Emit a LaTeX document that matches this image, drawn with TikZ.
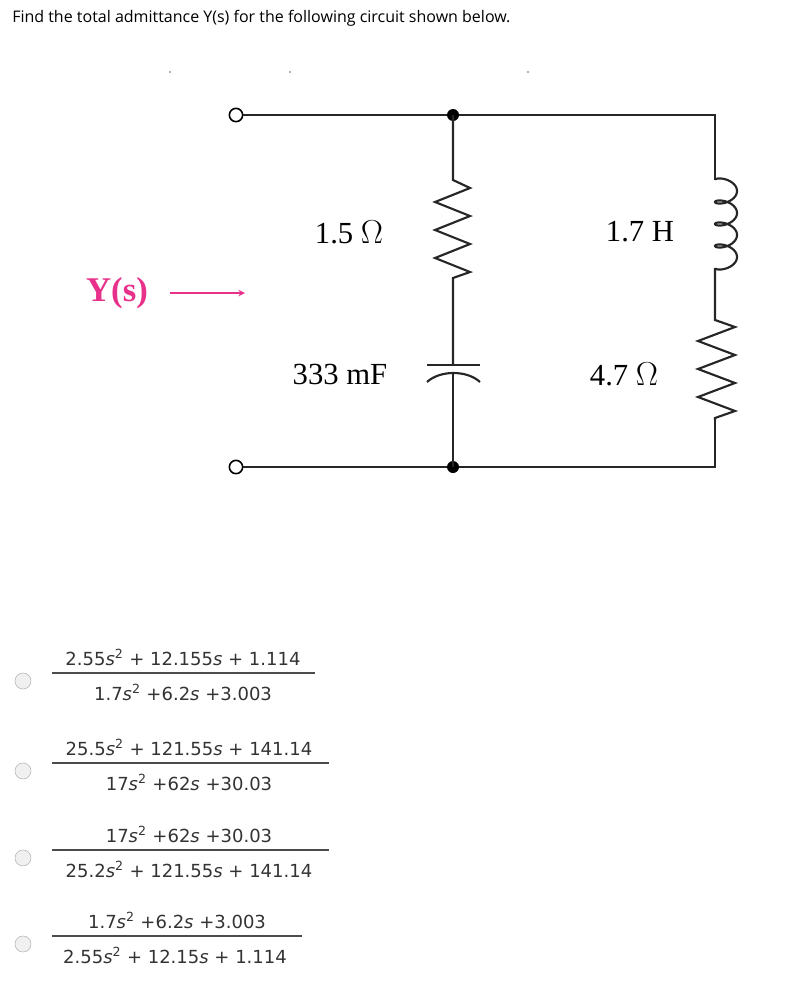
\documentclass[tikz,border=0pt]{standalone}
\usepackage{fontspec}
\setmainfont{Liberation Serif}
\newfontfamily\titlefont{Open Sans}
\newfontfamily\ansf{DejaVu Sans}
\definecolor{ypink}{HTML}{E8318A}
\newcommand{\vs}{\textit{s}}
\begin{document}
\begin{tikzpicture}[x=0.75pt,y=-0.75pt,
  wire/.style={line width=1.6pt,black!85},
  lbl/.style={font=\fontsize{23}{26}\selectfont,inner sep=0pt},
  radio/.style={circle,draw=black!30,fill=black!6,minimum size=12pt,inner sep=0pt},
  ans/.style={font=\ansf\fontsize{13.5}{16}\selectfont,inner sep=0pt,text=black!80},
  bar/.style={line width=0.8pt,black!70}]
\useasboundingbox (0,0) rectangle (790,992);
\node[anchor=west,inner sep=0pt,font=\titlefont\fontsize{12}{14}\selectfont] (title) at (12,18) {Find the total admittance Y(s) for the following circuit shown below.};
\foreach \x in {170,290,528} \fill[black!40] (\x,72) circle (0.8pt);
% terminals
\node[circle,draw,line width=1.2pt,minimum size=10pt,inner sep=0pt] (t1) at (236,115) {};
\node[circle,draw,line width=1.2pt,minimum size=10pt,inner sep=0pt] (t2) at (236,467) {};
\coordinate (n1) at (453,115); \coordinate (n2) at (453,467);
\coordinate (c1) at (715,115); \coordinate (c2) at (715,467);
\draw[wire] (t1) -- (n1) -- (c1) -- (715,180);
\draw[wire] (t2) -- (n2) -- (c2) -- (715,420);
\fill (n1) circle (4.5pt); \fill (n2) circle (4.5pt);
% middle branch
\draw[wire] (n1) -- (453,180) -- (470,188) -- (435,202) -- (470,216) -- (435,230) -- (470,244) -- (435,258) -- (470,272) -- (453,278) -- (453,365);
\draw[wire] (427,365) -- (480,365);
\draw[wire] (427,382) .. controls (440,370) and (467,370) .. (480,382);
\draw[wire] (453,373) -- (n2);
% right branch: inductor
\draw[wire,domain=0:4*360,samples=200,smooth,variable=\t]
  plot ({715+11*(1-cos(\t))}, {180+(22/360)*\t-6*sin(\t)});
\draw[wire] (715,268) -- (715,320) -- (735,327) -- (698,341) -- (735,355) -- (698,369) -- (735,383) -- (698,397) -- (735,411) -- (715,418) -- (715,420);
% labels
\node[lbl] (l1) at (349,232) {1.5 $\Omega$};
\node[lbl] (l2) at (640,232) {1.7 H};
\node[lbl] (l3) at (340,374) {333 mF};
\node[lbl] (l4) at (624,374) {4.7 $\Omega$};
\node[inner sep=0pt,text=ypink,font=\bfseries\fontsize{26}{30}\selectfont] (ys) at (117,293) {Y(s)};
\coordinate (ya) at (245,293);
\draw[ypink,line width=1.2pt,-stealth] (170,293) -- (ya);
% answers
\foreach \y/\num/\den/\xl/\xr/\nx/\dx in {
  673/{2.55\vs\textsuperscript{2} + 12.155\vs\ + 1.114}/{1.7\vs\textsuperscript{2} +6.2\vs\ +3.003}/52/315/183/183,
  763/{25.5\vs\textsuperscript{2} + 121.55\vs\ + 141.14}/{17\vs\textsuperscript{2} +62\vs\ +30.03}/52/329/189/189,
  850/{17\vs\textsuperscript{2} +62\vs\ +30.03}/{25.2\vs\textsuperscript{2} + 121.55\vs\ + 141.14}/52/329/189/189,
  936/{1.7\vs\textsuperscript{2} +6.2\vs\ +3.003}/{2.55\vs\textsuperscript{2} + 12.15\vs\ + 1.114}/52/302/177/175} {
  \draw[bar] (\xl,\y) -- (\xr,\y);
  \node[ans,anchor=base] at ({\nx},{\y-8}) {\num};
  \node[ans,anchor=base] at ({\dx},{\y+27}) {\den};
  \node[radio] at ({23},{\y+8}) {};
}
\end{tikzpicture}
\end{document}
